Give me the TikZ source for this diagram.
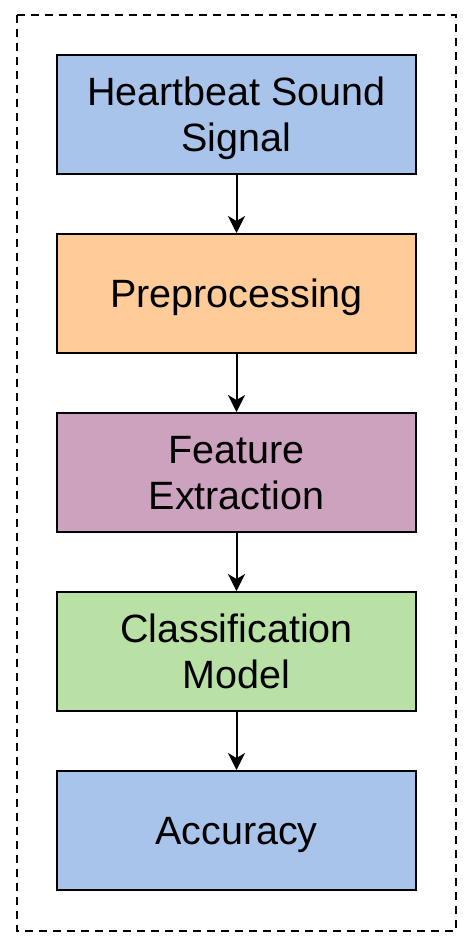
\documentclass[tikz,border=0pt]{standalone}
\usepackage{fontspec}
\setmainfont{Liberation Sans}
\usetikzlibrary{positioning,arrows.meta}
\definecolor{stageblue}{HTML}{A9C4EB}
\definecolor{stageorange}{HTML}{FFCC99}
\definecolor{stagepurple}{HTML}{CDA2BE}
\definecolor{stagegreen}{HTML}{B9E0A5}
\tikzset{
  stagebox/.style={draw=black, line width=2pt, minimum width=359pt, minimum height=119pt,
    align=center, text depth=-4.5pt, font=\fontsize{39.5}{46}\selectfont},
  flow/.style={line width=2pt, -{Stealth[length=17pt, width=17pt, inset=5pt]}}
}
\begin{document}
\begin{tikzpicture}[x=1pt, y=-1pt]
  \useasboundingbox (0,0) rectangle (474,946);
  % outer frame
  \draw[line width=1.8pt, dash pattern=on 8pt off 6pt] (17,15) rectangle (456,931);

  % stages
  \node[stagebox, fill=stageblue] (signal) at (236.5,114.5) {Heartbeat Sound\\Signal};
  \node[stagebox, fill=stageorange, below=58pt of signal] (prep) {Preprocessing};
  \node[stagebox, fill=stagepurple, below=58pt of prep] (feat) {Feature\\Extraction};
  \node[stagebox, fill=stagegreen, below=58pt of feat] (model) {Classification\\Model};
  \node[stagebox, fill=stageblue, below=58pt of model] (acc) {Accuracy};

  % arrows
  \draw[flow] (signal) -- (prep);
  \draw[flow] (prep) -- (feat);
  \draw[flow] (feat) -- (model);
  \draw[flow] (model) -- (acc);
\end{tikzpicture}
\end{document}
